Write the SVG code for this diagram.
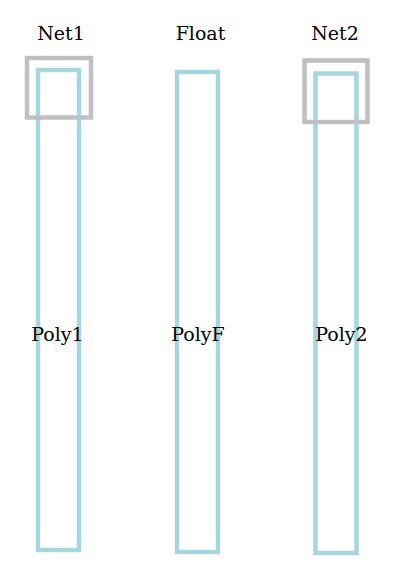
<svg xmlns="http://www.w3.org/2000/svg" width="404" height="573" viewBox="0 0 404 573">
<style>
.poly{fill:none;stroke:#a7d6df;stroke-width:4.5}
.net{fill:none;stroke:#c0c0c0;stroke-width:4.5}
text{font-family:"DejaVu Serif",serif;font-size:19px;fill:#000;text-anchor:middle}
</style>
<rect width="404" height="573" fill="#fff"/>
<g id="Poly1"><rect class="poly" x="38" y="70" width="41" height="480"/><text x="57.5" y="341">Poly1</text></g>
<g id="PolyF"><rect class="poly" x="177" y="72" width="41" height="480"/><text x="198" y="341">PolyF</text></g>
<g id="Poly2"><rect class="poly" x="315.5" y="73.5" width="41" height="479.5"/><text x="341.5" y="341">Poly2</text></g>
<g id="Net1"><rect class="net" x="27" y="58" width="64" height="59.5"/><text x="61" y="40">Net1</text></g>
<g id="Float"><text x="200.5" y="40">Float</text></g>
<g id="Net2"><rect class="net" x="304.5" y="60.5" width="63" height="61.5"/><text x="335" y="40">Net2</text></g>
<g id="connectors"/>
</svg>
